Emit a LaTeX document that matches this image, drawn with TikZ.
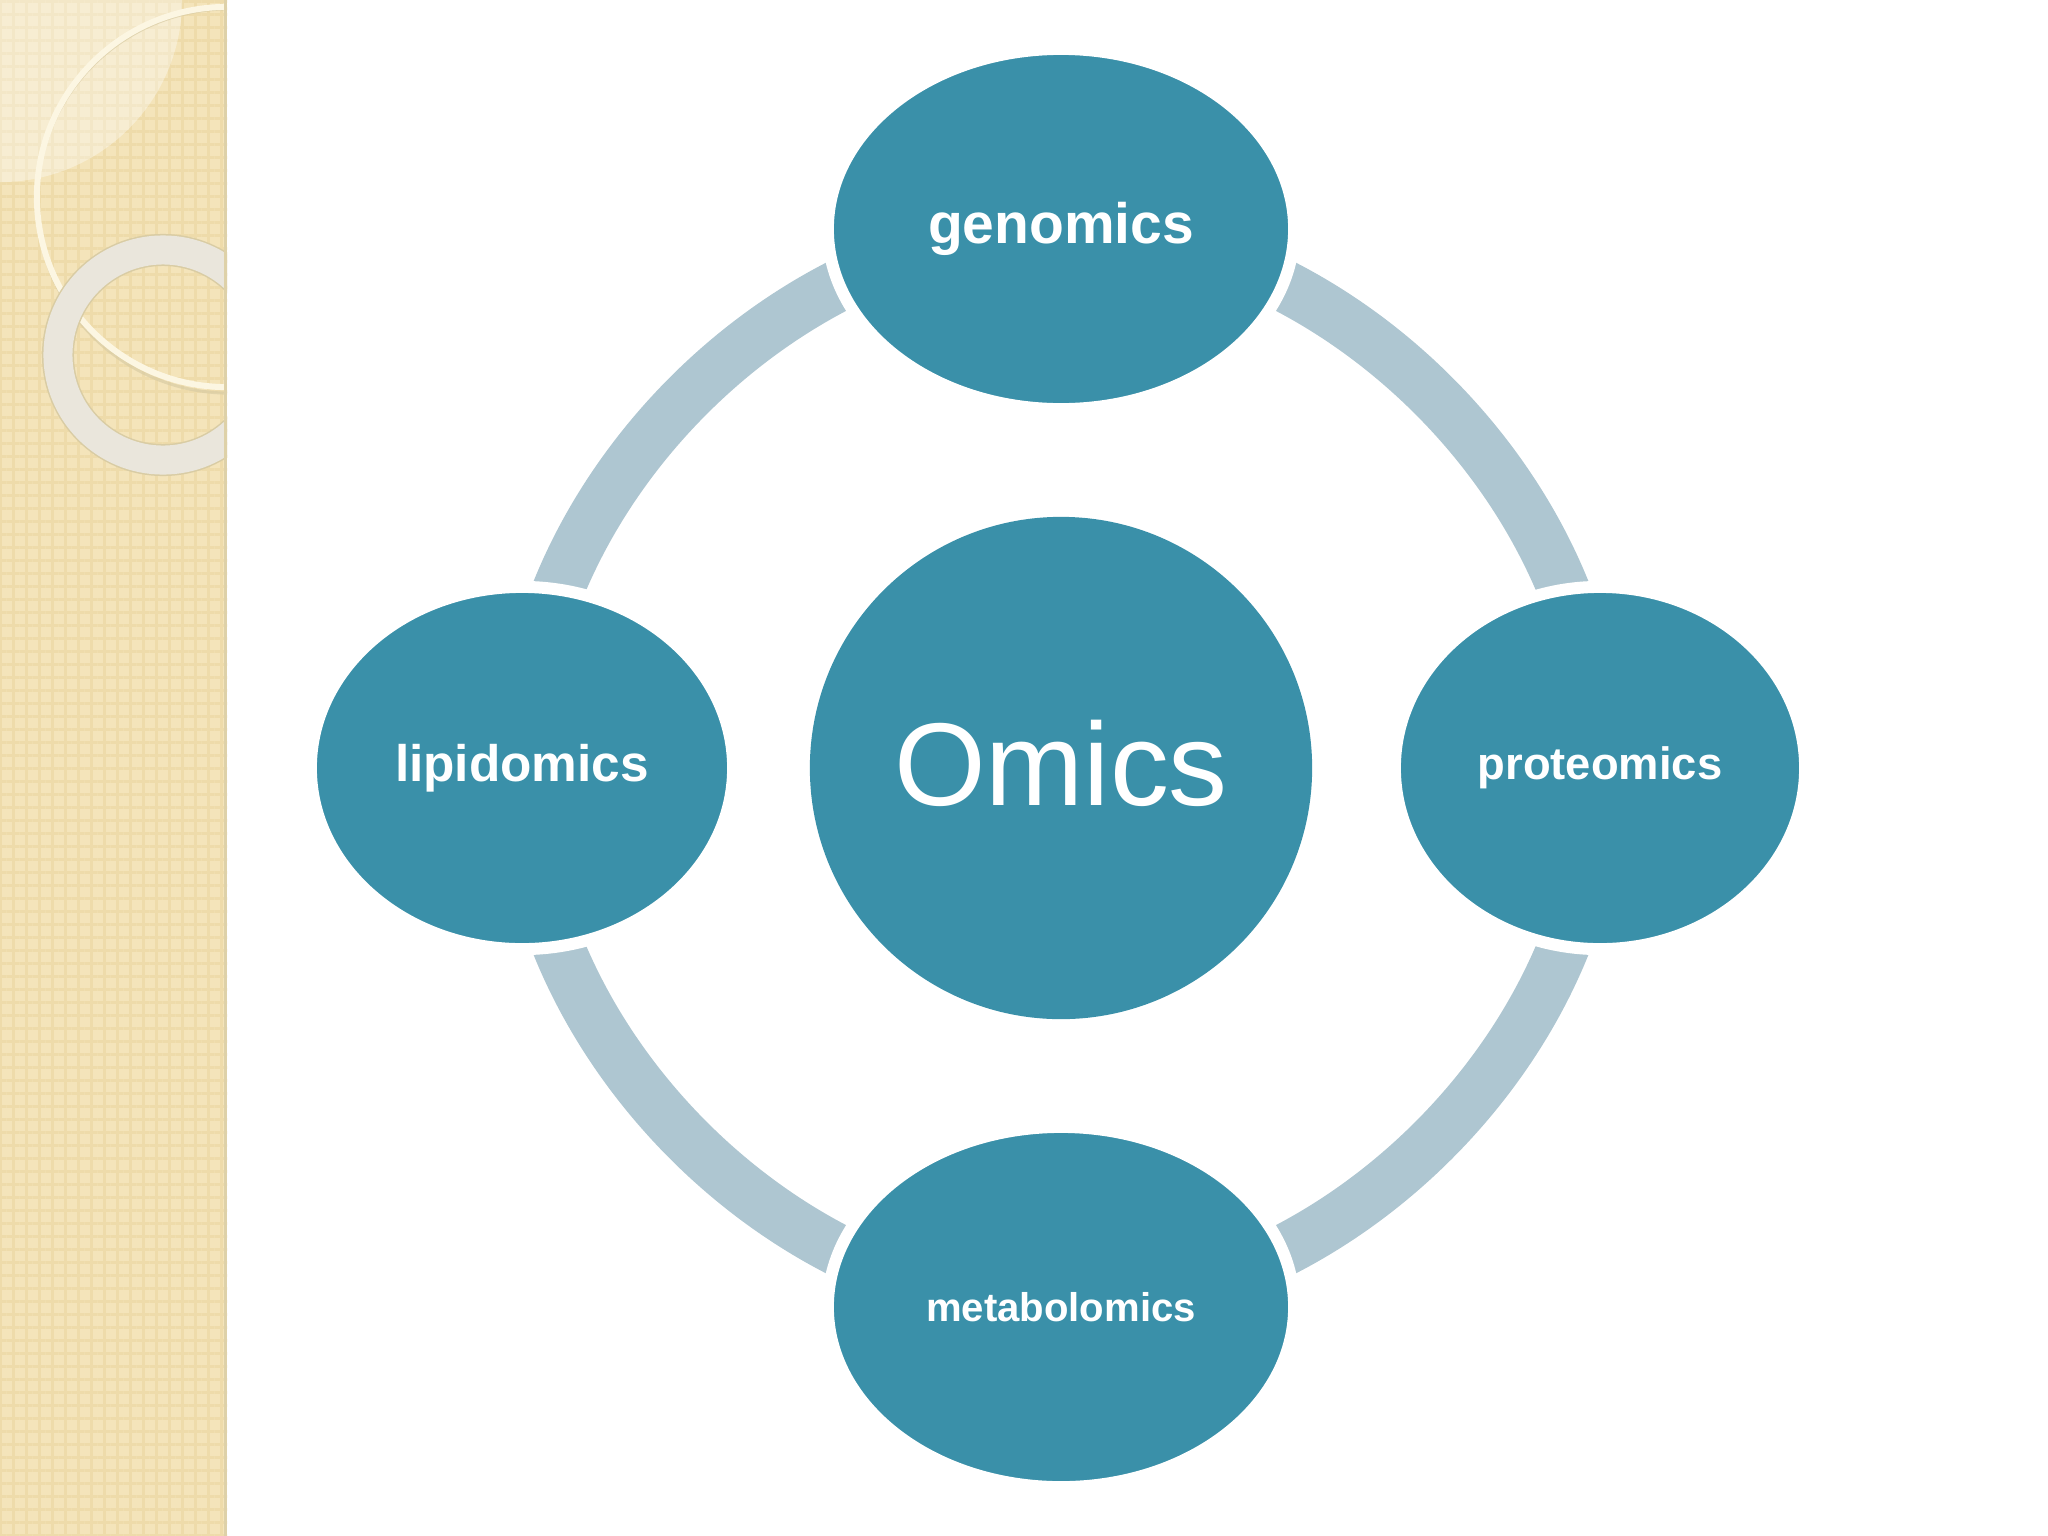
\documentclass[tikz,border=0pt]{standalone}
\usepackage{fontspec}
\setmainfont{Liberation Sans}
\usetikzlibrary{shapes.geometric, backgrounds, patterns.meta}
\definecolor{omteal}{HTML}{3A90A9}
\definecolor{omring}{HTML}{AEC6D1}
\definecolor{stripbg}{HTML}{F4E4BA}
\definecolor{stripdot}{HTML}{EEDBAA}
\definecolor{creamline}{HTML}{FCF6E2}
\definecolor{ringgray}{HTML}{ECE9E1}
\definecolor{ringedge}{HTML}{D9CCA4}

\begin{document}
\begin{tikzpicture}[
  x=0.01cm, y=-0.01cm,
  topic/.style={ellipse, fill=omteal, draw=white, line width=0.12cm,
    text=white, inner sep=0pt},
  hub/.style={circle, fill=omteal, text=white, inner sep=0pt, text depth=0.1cm,
    minimum size=5.02cm, font=\fontsize{33.5pt}{40pt}\selectfont},
  link/.style={draw=omring, line width=0.52cm, looseness=0.92},
  ]
  \useasboundingbox (0,0) rectangle (2048,1536);

  % left decorative strip
  \fill[stripbg] (0,0) rectangle (227,1536);
  \fill[pattern={Lines[angle=0, distance=0.13cm, line width=0.03cm]},
        pattern color=stripdot] (0,0) rectangle (227,1536);
  \fill[pattern={Lines[angle=90, distance=0.13cm, line width=0.03cm]},
        pattern color=stripdot] (0,0) rectangle (227,1536);
  \begin{scope}
    \clip (0,0) rectangle (227,1536);
    % light corner
    \fill[white, opacity=0.35] (0,0) circle (1.82cm);
    % thin ring
    \draw[ringedge, line width=0.03cm, opacity=0.7] (229,201) circle (1.92cm);
    \draw[creamline, line width=0.06cm] (227,197) circle (1.9cm);
    % thick ring
    \draw[ringedge, line width=0.32cm] (163,355) circle (1.05cm);
    \draw[ringgray, line width=0.29cm, opacity=0.92] (163,355) circle (1.05cm);
  \end{scope}
  \draw[ringedge!80!stripbg, line width=0.03cm] (225,0) -- (225,1536);

  % center
  \node[hub] (omics) at (1061,768) {Omics};

  % the four topics
  \node[topic, minimum width=4.66cm, minimum height=3.60cm,
        font=\bfseries\fontsize{16.2pt}{19pt}\selectfont] (gen) at (1061,229) {genomics};
  \node[topic, minimum width=4.10cm, minimum height=3.62cm,
        font=\bfseries\fontsize{12.9pt}{15pt}\selectfont] (prot) at (1600,768) {proteomics};
  \node[topic, minimum width=4.66cm, minimum height=3.60cm,
        font=\bfseries\fontsize{11.4pt}{14pt}\selectfont] (meta) at (1061,1307) {metabolomics};
  \node[topic, minimum width=4.22cm, minimum height=3.62cm,
        font=\bfseries\fontsize{14.6pt}{17pt}\selectfont] (lip) at (522,768) {lipidomics};

  % ring behind the topics
  \begin{scope}[on background layer]
    \draw[link] (gen.center) to[bend left=45] (prot.center);
    \draw[link] (prot.center) to[bend left=45] (meta.center);
    \draw[link] (meta.center) to[bend left=45] (lip.center);
    \draw[link] (lip.center) to[bend left=45] (gen.center);
  \end{scope}
\end{tikzpicture}
\end{document}
